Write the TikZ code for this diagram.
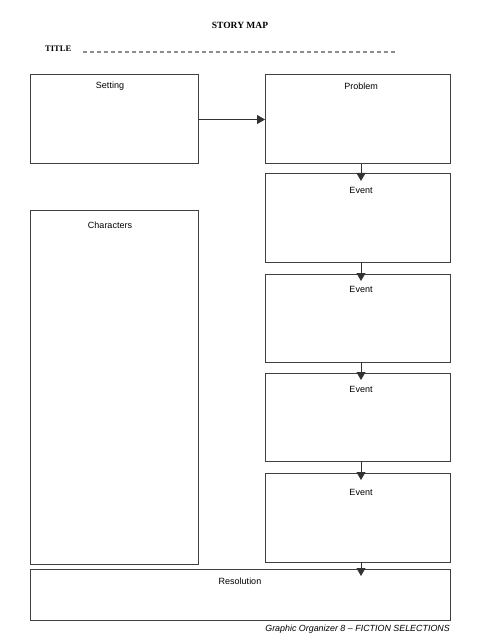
\documentclass[tikz,border=0pt]{standalone}
\usepackage{fontspec}
\setmainfont{Liberation Serif}
\setsansfont{Liberation Sans}
\usetikzlibrary{arrows.meta,calc}
\begin{document}
\begin{tikzpicture}[x=1pt,y=-1pt,
  box/.style={draw=black!75,line width=1pt,inner sep=0pt,outer sep=0pt},
  lab/.style={font=\sffamily\fontsize{9}{11}\selectfont,anchor=center,inner sep=0pt},
  arr/.style={draw=black!80,line width=0.8pt,-{Triangle[length=8pt,width=9pt]}}]
\useasboundingbox (0,0) rectangle (482,644);
% header
\node[font=\bfseries\fontsize{9.5}{11}\selectfont] (head) at (240,25) {STORY MAP};
\node[font=\bfseries\fontsize{8.5}{10}\selectfont,anchor=west,inner sep=0pt] (tit) at (45,49) {TITLE};
\coordinate (dl) at (83,52);
\coordinate (dr) at (397,52);
\draw[black!45,line width=1.4pt,dash pattern=on 3.5pt off 3.5pt] (dl) -- (dr);
% boxes
\node[box,minimum width=168pt,minimum height=89pt] (set) at (114,119.5) {};
\node[box,minimum width=185pt,minimum height=89pt] (prob) at (357.5,119.5) {};
\node[box,minimum width=185pt,minimum height=88pt] (ev1) at (357.5,218) {};
\node[box,minimum width=185pt,minimum height=88pt] (ev2) at (357.5,318) {};
\node[box,minimum width=185pt,minimum height=88pt] (ev3) at (357.5,417) {};
\node[box,minimum width=185pt,minimum height=89pt] (ev4) at (357.5,517.5) {};
\node[box,minimum width=168pt,minimum height=354pt] (char) at (114,387) {};
\node[box,minimum width=420pt,minimum height=51pt] (res) at (240,594.5) {};
% labels
\node[lab] (lset) at (110,86) {Setting};
\node[lab] (lprob) at (361,86) {Problem};
\node[lab] (lev1) at (361,190) {Event};
\node[lab] (lev2) at (361,289) {Event};
\node[lab] (lev3) at (361,389) {Event};
\node[lab] (lev4) at (361,492) {Event};
\node[lab] (lchar) at (110,225) {Characters};
\node[lab] (lres) at (240,581) {Resolution};
\node[font=\sffamily\itshape\fontsize{8.9}{10}\selectfont,anchor=east,inner sep=0pt] (foot) at (450,629) {Graphic Organizer 8 -- FICTION SELECTIONS};
% arrows
\draw[arr] (set.east) -- (prob.west);
\draw[arr] ([xshift=3.5pt]prob.south) -- ([xshift=3.5pt,yshift=-7pt]ev1.north);
\draw[arr] ([xshift=3.5pt]ev1.south) -- ([xshift=3.5pt,yshift=-7pt]ev2.north);
\draw[arr] ([xshift=3.5pt]ev2.south) -- ([xshift=3.5pt,yshift=-7pt]ev3.north);
\draw[arr] ([xshift=3.5pt]ev3.south) -- ([xshift=3.5pt,yshift=-7pt]ev4.north);
\draw[arr] ([xshift=3.5pt]ev4.south) -- ([xshift=121pt,yshift=-7pt]res.north);
\end{tikzpicture}
\end{document}
